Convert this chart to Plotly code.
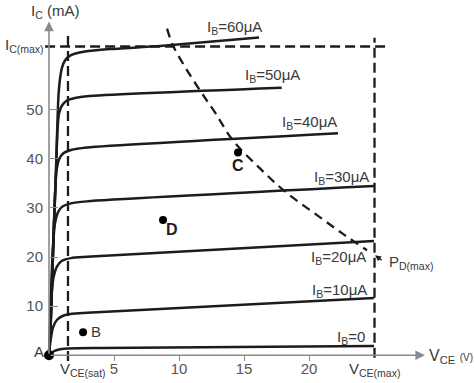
import plotly.graph_objects as go

# ---------------- data (V_CE in volts, I_C in mA) ----------------
IB_NAMES = ["0", "10", "20", "30", "40", "50", "60"]

VCE_IB0 = [0, 0.31, 0.69, 1.38, 3.92, 25.0]
IC_IB0 = [0, 0.71, 1.12, 1.36, 1.47, 1.87]

VCE_IB10 = [0, 0.12, 0.31, 0.62, 1.08, 1.77, 2.92, 25.0]
IC_IB10 = [0, 3.05, 5.70, 7.22, 8.04, 8.45, 8.65, 11.66]

VCE_IB20 = [0, 0.08, 0.19, 0.35, 0.62, 1.0, 1.69, 2.92, 25.0]
IC_IB20 = [0, 6.10, 12.21, 15.87, 18.11, 19.23, 19.78, 20.04, 23.26]

VCE_IB30 = [0, 0.08, 0.19, 0.31, 0.46, 0.69, 1.0, 1.69, 2.92, 25.0]
IC_IB30 = [0, 6.10, 15.26, 22.38, 26.86, 29.10, 30.22, 30.93, 31.34, 34.45]

VCE_IB40 = [0, 0.12, 0.23, 0.35, 0.46, 0.58, 0.77, 1.08, 1.69, 2.92, 22.23]
IC_IB40 = [0, 6.10, 15.26, 24.42, 32.56, 37.65, 39.89, 41.11, 41.82, 42.33, 45.24]

VCE_IB50 = [0, 0.13, 0.27, 0.38, 0.54, 0.65, 0.77, 1.0, 1.38, 2.0, 2.92, 17.9]
IC_IB50 = [0, 6.10, 17.30, 26.45, 37.65, 45.79, 49.25, 50.87, 51.89, 52.40, 52.77, 54.48]

VCE_IB60 = [0, 0.13, 0.27, 0.38, 0.54, 0.64, 0.73, 0.85, 1.0, 1.23, 1.62, 2.77, 4.69, 8.54, 16.15]
IC_IB60 = [0, 6.10, 17.30, 26.45, 37.65, 46.81, 52.91, 56.37, 58.61, 60.03, 61.05, 61.86, 62.37, 62.98, 64.71]

# power-dissipation limit curve P_D(max)
PD_V = [9.08, 9.54, 10.54, 11.62, 12.77, 14.15, 16.23, 18.15, 20.85, 22.77, 24.46]
PD_I = [66.54, 63.08, 58.40, 53.93, 49.45, 43.75, 38.05, 33.37, 28.09, 24.42, 21.37]

IC_MAX = 62.9     # mA
VCE_SAT = 1.46    # V
VCE_MAX = 25.04   # V

# operating points
PTS_NAMES = ["A", "B", "C", "D"]
PTS_V = [0, 2.62, 14.54, 8.77]
PTS_I = [0, 4.68, 41.31, 27.57]

X_TICKS = [5, 10, 15, 20]
Y_TICKS = [10, 20, 30, 40, 50]

# ---------------- figure ----------------
FONT = "Liberation Sans, Arial, sans-serif"
INK = "#1c1c1c"
GREY = "#8a8a8a"
TXT = "#3a3a3a"

X_RANGE = [-1, 29]
Y_RANGE = [-2, 68.5]

fig = go.Figure()

curves = [(VCE_IB0, IC_IB0), (VCE_IB10, IC_IB10), (VCE_IB20, IC_IB20),
          (VCE_IB30, IC_IB30), (VCE_IB40, IC_IB40), (VCE_IB50, IC_IB50),
          (VCE_IB60, IC_IB60)]
for (vx, iy), name in zip(curves, IB_NAMES):
    fig.add_trace(go.Scatter(x=vx, y=iy, mode="lines", name=name,
                             line=dict(color=INK, width=2.5, shape="spline", smoothing=0.6),
                             hoverinfo="skip"))

DASH = "10px,5px"
fig.add_trace(go.Scatter(x=[-0.3, 25.85], y=[IC_MAX, IC_MAX], mode="lines",
                         line=dict(color=INK, width=2.3, dash=DASH), hoverinfo="skip"))
fig.add_trace(go.Scatter(x=[VCE_SAT, VCE_SAT], y=[-1.2, 65.5], mode="lines",
                         line=dict(color=INK, width=2.3, dash=DASH), hoverinfo="skip"))
fig.add_trace(go.Scatter(x=[VCE_MAX, VCE_MAX], y=[-0.5, 64.7], mode="lines",
                         line=dict(color=INK, width=2.3, dash=DASH), hoverinfo="skip"))
fig.add_trace(go.Scatter(x=PD_V, y=PD_I, mode="lines",
                         line=dict(color=INK, width=2.3, dash="9px,6px", shape="spline"),
                         hoverinfo="skip"))

fig.add_trace(go.Scatter(x=PTS_V, y=PTS_I, mode="markers", opacity=1,
                         marker=dict(color="#000000", size=[10, 8, 8, 8], opacity=1,
                                     line=dict(width=0)),
                         cliponaxis=False, hoverinfo="skip"))

ann = []
# axes drawn as arrows from the origin
ann.append(dict(x=28.92, y=0, ax=0, ay=0, axref="x", ayref="y", xref="x", yref="y",
                text="", showarrow=True, arrowhead=2, arrowsize=1.2, arrowwidth=1.6,
                arrowcolor=GREY))
ann.append(dict(x=0, y=67.97, ax=0, ay=0, axref="x", ayref="y", xref="x", yref="y",
                text="", showarrow=True, arrowhead=2, arrowsize=1.2, arrowwidth=1.6,
                arrowcolor=GREY))

lab_font = dict(family=FONT, size=15, color=TXT)
curve_label_pos = [(22.0, 3.66), (20.08, 13.23), (20.0, 19.94), (20.23, 36.22),
                   (17.77, 47.42), (14.92, 56.98), (12.0, 66.75)]
for name, (lx, ly) in zip(IB_NAMES, curve_label_pos):
    txt = "I<sub>B</sub>=0" if name == "0" else f"I<sub>B</sub>={name}μA"
    ann.append(dict(x=lx, y=ly, text=txt, showarrow=False, xanchor="left",
                    yanchor="middle", font=lab_font))

# labels outside the plotting range: anchored on in-range points and shifted
ann.append(dict(x=0, y=68, text="I<sub>C</sub> (mA)", showarrow=False,
                xanchor="center", yanchor="middle", xshift=6, yshift=10, font=lab_font))
ann.append(dict(x=0, y=IC_MAX, text="I<sub>C(max)</sub>", showarrow=False,
                xanchor="right", yanchor="middle", xshift=-3, yshift=1, font=lab_font))
ann.append(dict(x=VCE_SAT, y=0, text="V<sub>CE(sat)</sub>", showarrow=False,
                xanchor="left", yanchor="middle", xshift=-10, yshift=-14, font=lab_font))
ann.append(dict(x=VCE_MAX, y=0, text="V<sub>CE(max)</sub>", showarrow=False,
                xanchor="center", yanchor="middle", xshift=0, yshift=-14, font=lab_font))
ann.append(dict(x=28.92, y=0, text="V<sub>CE</sub> <span style='font-size:10px'>(V)</span>",
                showarrow=False, xanchor="left", yanchor="middle", xshift=2, yshift=-1,
                font=dict(family=FONT, size=16, color=TXT)))
ann.append(dict(x=26.0, y=18.9, text="P<sub>D(max)</sub>", showarrow=False,
                xanchor="left", yanchor="middle", font=lab_font))
# small arrow pointing at the end of the P_D(max) curve
ann.append(dict(x=25.08, y=20.35, xref="x", yref="y", ax=8, ay=6, text="",
                showarrow=True, arrowhead=2, arrowsize=0.8, arrowwidth=1.5, arrowcolor=INK))

pt_style = {
    "A": dict(xshift=-10, yshift=4, bold=False),
    "B": dict(xshift=13, yshift=1, bold=False),
    "C": dict(xshift=0, yshift=-13, bold=True),
    "D": dict(xshift=9, yshift=-10, bold=True),
}
for n, vx, iy in zip(PTS_NAMES, PTS_V, PTS_I):
    s = pt_style[n]
    ann.append(dict(x=vx, y=iy, text=f"<b>{n}</b>" if s["bold"] else n, showarrow=False,
                    xshift=s["xshift"], yshift=s["yshift"],
                    font=dict(family=FONT, size=16 if s["bold"] else 15,
                              color=INK if s["bold"] else TXT)))

x_pos = (0 - Y_RANGE[0]) / (Y_RANGE[1] - Y_RANGE[0])
y_pos = (0 - X_RANGE[0]) / (X_RANGE[1] - X_RANGE[0])

fig.update_layout(
    width=474, height=383,
    margin=dict(l=36, r=48, t=19, b=18, autoexpand=False),
    paper_bgcolor="white", plot_bgcolor="white",
    showlegend=False,
    annotations=ann,
    xaxis=dict(range=X_RANGE, anchor="free", position=x_pos, showline=False,
               automargin=False,
               showgrid=False, zeroline=False, tickmode="array", tickvals=X_TICKS,
               ticktext=[str(t) for t in X_TICKS], ticks="outside", ticklen=5,
               tickwidth=1.3, tickcolor=GREY, ticklabelstandoff=-5,
               tickfont=dict(family=FONT, size=15, color="#555555")),
    yaxis=dict(range=Y_RANGE, anchor="free", position=y_pos, showline=False,
               automargin=False,
               showgrid=False, zeroline=False, tickmode="array", tickvals=Y_TICKS,
               ticktext=[str(t) for t in Y_TICKS], ticks="inside", ticklen=8,
               tickwidth=1.3, tickcolor=GREY, ticklabelstandoff=6,
               tickfont=dict(family=FONT, size=15, color="#555555")),
)

fig.write_html("out.html")
